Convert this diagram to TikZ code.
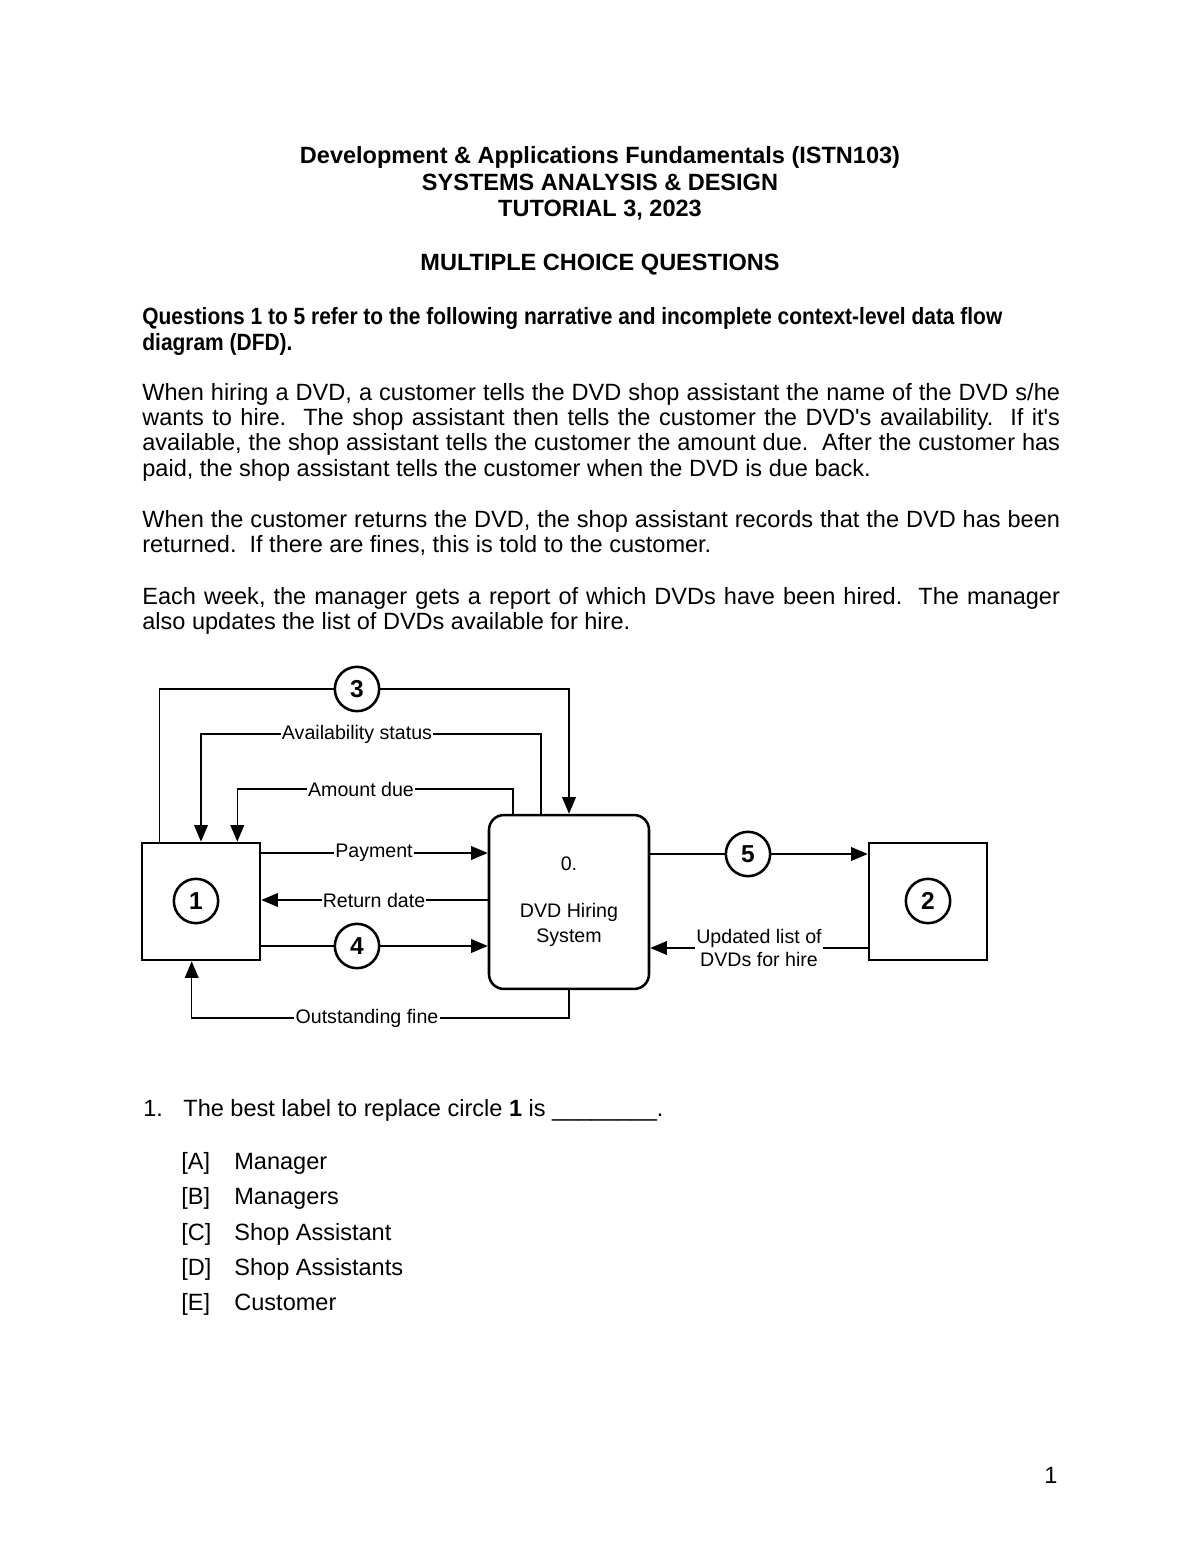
\documentclass[tikz,border=0pt]{standalone}
\usepackage{fontspec}
\setmainfont{Liberation Sans}
\newfontfamily\qfont{Liberation Sans}[FakeStretch=0.89]
\usepackage{tikz}
\usetikzlibrary{positioning}
\usetikzlibrary{arrows.meta}
\usetikzlibrary{calc}
\pgfdeclarelayer{edgelayer}
\pgfdeclarelayer{nodelayer}
\pgfsetlayers{main,edgelayer,nodelayer}
\tikzset{
    entity/.style={draw, line width=1.3pt, minimum width=60.2pt, minimum height=59.7pt, inner sep=0pt},
    proc/.style={draw, line width=1.3pt, rounded corners=7.6pt, minimum width=81.6pt, minimum height=88.7pt, align=center, font=\fontsize{10}{12.75}\selectfont},
    num/.style={draw, circle, line width=1.3pt, minimum size=22.6pt, inner sep=0pt, font=\fontsize{12.5}{14}\selectfont\bfseries},
    lbl/.style={inner sep=0.4pt, align=center, font=\fontsize{10}{12.2}\selectfont},
    flow/.style={line width=0.75pt, -{Triangle[length=8.5pt,width=7pt]}},
    para/.style={anchor=base west, inner sep=0pt, text width=468pt, align=justify, font=\fontsize{12}{12.95}\selectfont\frenchspacing},
    txt/.style={anchor=base west, inner sep=0pt, font=\fontsize{12}{14}\selectfont},
    head/.style={anchor=base, inner sep=0pt, font=\fontsize{12}{14}\selectfont\bfseries}
}
\begin{document}
\begin{tikzpicture}[x=0.51pt, y=-0.51pt]
        \useasboundingbox [fill=white] (0, 0) rectangle (1200, 1553);
        % heading and narrative
        \node [head] (t1) at (600, 164) {Development \& Applications Fundamentals (ISTN103)};
        \node [head] (t2) at (600, 191) {SYSTEMS ANALYSIS \& DESIGN};
        \node [head] (t3) at (600, 217) {TUTORIAL 3, 2023};
        \node [head] (t4) at (600, 270) {MULTIPLE CHOICE QUESTIONS};
        \node [txt, font=\fontsize{12}{14}\selectfont\qfont\bfseries] (q0a) at (142, 324) {Questions 1 to 5 refer to the following narrative and incomplete context-level data flow};
        \node [txt, font=\fontsize{12}{14}\selectfont\qfont\bfseries] (q0b) at (142, 350) {diagram (DFD).};
        \node [para] (p1) at (142, 400) {When hiring a DVD, a customer tells the DVD shop assistant the name of the DVD s/he\linebreak
            wants to hire. \ The shop assistant then tells the customer the DVD\textquotesingle s availability. \ If it\textquotesingle s\linebreak
            available, the shop assistant tells the customer the amount due. \ After the customer has\linebreak
            paid, the shop assistant tells the customer when the DVD is due back.};
        \node [para] (p2) at (142, 527) {When the customer returns the DVD, the shop assistant records that the DVD has been\linebreak
            returned. \ If there are fines, this is told to the customer.};
        \node [para] (p3) at (142, 604) {Each week, the manager gets a report of which DVDs have been hired. \ The manager\linebreak
            also updates the list of DVDs available for hire.};

        % context-level DFD
        \begin{pgfonlayer}{nodelayer}
            \node [entity] (ent1) at (201, 901.5) {};
            \node [num] (n1) at (196, 901) {1};
            \node [proc] (proc) at (569, 902) {0.\\[11.25pt]DVD Hiring\\System};
            \node [entity] (ent2) at (928, 901.5) {};
            \node [num] (n2) at (928, 901) {2};
            \node [num] (n3) at (357, 689) {3};
            \node [num] (n4) at (357, 946) {4};
            \node [num] (n5) at (748, 854) {5};
            \node [lbl] (avail) at (357, 734) {Availability status};
            \node [lbl] (amount) at (361, 789) {Amount due};
            \node [lbl] (pay) at (374, 853) {Payment};
            \node [lbl] (ret) at (374, 900) {Return date};
            \node [lbl] (fine) at (367, 1018) {Outstanding fine};
            \node [lbl] (upd) at (759, 948) {Updated list of\\DVDs for hire};
        \end{pgfonlayer}
        \begin{pgfonlayer}{edgelayer}
            \draw [flow] ($(ent1.north west)+(19, 0)$) |- (n3) -| (proc.north);
            \draw [flow] ($(proc.north)+(-28, 0)$) |- (avail) -| (ent1.north);
            \draw [flow] ($(proc.north)+(-56, 0)$) |- (amount) -| ($(ent1.north east)+(-24, 0)$);
            \draw [flow] (ent1.east |- pay) -- (pay) -- (proc.west |- pay);
            \draw [flow] (proc.west |- ret) -- (ret) -- (ent1.east |- ret);
            \draw [flow] (ent1.east |- n4) -- (n4) -- (proc.west |- n4);
            \draw [flow] (proc.south) |- (fine) -| ($(ent1.south west)+(51, 0)$);
            \draw [flow] (proc.east |- n5) -- (n5) -- (ent2.west |- n5);
            \draw [flow] (ent2.west |- upd) -- (upd) -- (proc.east |- upd);
        \end{pgfonlayer}

        % question 1
        \node [txt] (q1) at (143, 1116) {1.};
        \node [txt] (q1t) at (183, 1116) {The best label to replace circle \textbf{1} is \_\_\_\_\_\_\_\_.};
        \node [txt] (oa) at (181, 1169) {[A]};
        \node [txt] (oat) at (234, 1169) {Manager};
        \node [txt] (ob) at (181, 1204) {[B]};
        \node [txt] (obt) at (234, 1204) {Managers};
        \node [txt] (oc) at (181, 1240) {[C]};
        \node [txt] (oct) at (234, 1240) {Shop Assistant};
        \node [txt] (od) at (181, 1275) {[D]};
        \node [txt] (odt) at (234, 1275) {Shop Assistants};
        \node [txt] (oe) at (181, 1310) {[E]};
        \node [txt] (oet) at (234, 1310) {Customer};
        \node [txt, anchor=base] (page) at (1051, 1483) {1};
    \end{tikzpicture}
\end{document}
